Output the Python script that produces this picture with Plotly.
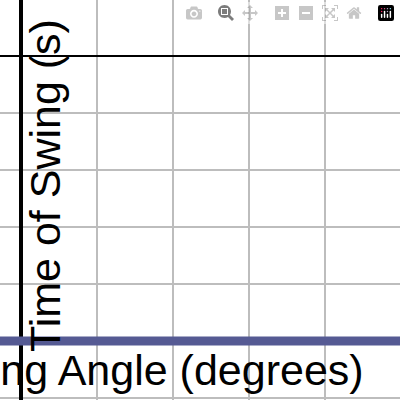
import plotly.graph_objects as go

# axis values (grid units)
axis_x = [0, 0]
axis_y = [-2, 7]
ref_line_x = [-1, 6]
ref_line_y = [5, 5]
data_line_x = [-1, 6]
data_line_y = [0, 0]
x_title = "Swing Angle (degrees)"
y_title = "Time of Swing (s)"

fig = go.Figure()
fig.add_trace(go.Scatter(x=ref_line_x, y=ref_line_y, mode="lines",
                         line=dict(color="black", width=2), hoverinfo="skip"))
fig.add_trace(go.Scatter(x=axis_x, y=axis_y, mode="lines",
                         line=dict(color="black", width=4), hoverinfo="skip"))
fig.add_trace(go.Scatter(x=data_line_x, y=data_line_y, mode="lines",
                         line=dict(color="#555a93", width=9), hoverinfo="skip"))

fig.update_xaxes(range=[-21 / 76, 379 / 76], dtick=1, tick0=0, showgrid=True,
                 gridcolor="#bdbdbd", gridwidth=1.5, zeroline=False,
                 showticklabels=False, ticks="")
fig.update_yaxes(range=[-59 / 57, 341 / 57], dtick=1, tick0=0, showgrid=True,
                 gridcolor="#bdbdbd", gridwidth=1.5, zeroline=False,
                 showticklabels=False, ticks="")

fig.add_annotation(text=y_title, x=45 / 400, y=1 - 186 / 400, xref="paper", yref="paper",
                   textangle=-90, showarrow=False, xanchor="center", yanchor="middle",
                   font=dict(family="Liberation Sans", size=43, color="black"))
fig.add_annotation(text=x_title, x=366 / 400, y=1 - 370 / 400, xref="paper", yref="paper",
                   showarrow=False, xanchor="right", yanchor="middle",
                   font=dict(family="Liberation Sans", size=43, color="black"))

fig.update_layout(width=400, height=400, margin=dict(l=0, r=0, t=0, b=0),
                  plot_bgcolor="white", paper_bgcolor="white", showlegend=False)

fig.write_html("out.html", post_script="document.body.style.margin='0';")
